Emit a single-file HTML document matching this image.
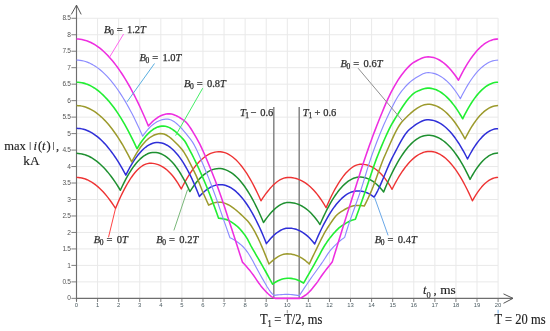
<!DOCTYPE html>
<html><head><meta charset="utf-8"><style>
html,body{margin:0;padding:0;background:#fff;}
svg{display:block;}
.g{stroke:#e9e9e9;stroke-width:1;}
.ax{stroke:#707070;stroke-width:0.9;}
.axm{stroke:#6e6e6e;stroke-width:1.15;}
.arr{fill:none;stroke:#555;stroke-width:1;}
.vl{stroke:#858585;stroke-width:1.5;}
.tl{font-family:"Liberation Sans",sans-serif;font-size:5.9px;fill:#4a5a60;}
.tly{font-family:"Liberation Sans",sans-serif;font-size:6.6px;fill:#555;letter-spacing:-0.35px;}
.bar{font-size:9px;}
.bl{font-family:"Liberation Serif",serif;font-size:10.5px;fill:#2e2e2e;stroke:#2e2e2e;stroke-width:0.25px;}
.it{font-style:italic;}
.bl .sub{font-size:7.5px;}
.at{font-family:"Liberation Serif",serif;font-size:12.5px;fill:#222;stroke:#222;stroke-width:0.15px;}
.at2{font-family:"Liberation Serif",serif;font-size:12.5px;fill:#222;stroke:#222;stroke-width:0.15px;}
.sub2{font-size:8.5px;}
</style></head><body>
<svg width="550" height="331" viewBox="0 0 550 331">
<line x1="97.58" y1="18.27" x2="97.58" y2="298.35" class="g"/>
<line x1="118.66" y1="18.27" x2="118.66" y2="298.35" class="g"/>
<line x1="139.74" y1="18.27" x2="139.74" y2="298.35" class="g"/>
<line x1="160.82" y1="18.27" x2="160.82" y2="298.35" class="g"/>
<line x1="181.90" y1="18.27" x2="181.90" y2="298.35" class="g"/>
<line x1="202.98" y1="18.27" x2="202.98" y2="298.35" class="g"/>
<line x1="224.06" y1="18.27" x2="224.06" y2="298.35" class="g"/>
<line x1="245.14" y1="18.27" x2="245.14" y2="298.35" class="g"/>
<line x1="266.22" y1="18.27" x2="266.22" y2="298.35" class="g"/>
<line x1="287.30" y1="18.27" x2="287.30" y2="298.35" class="g"/>
<line x1="308.38" y1="18.27" x2="308.38" y2="298.35" class="g"/>
<line x1="329.46" y1="18.27" x2="329.46" y2="298.35" class="g"/>
<line x1="350.54" y1="18.27" x2="350.54" y2="298.35" class="g"/>
<line x1="371.62" y1="18.27" x2="371.62" y2="298.35" class="g"/>
<line x1="392.70" y1="18.27" x2="392.70" y2="298.35" class="g"/>
<line x1="413.78" y1="18.27" x2="413.78" y2="298.35" class="g"/>
<line x1="434.86" y1="18.27" x2="434.86" y2="298.35" class="g"/>
<line x1="455.94" y1="18.27" x2="455.94" y2="298.35" class="g"/>
<line x1="477.02" y1="18.27" x2="477.02" y2="298.35" class="g"/>
<line x1="498.10" y1="18.27" x2="498.10" y2="298.35" class="g"/>
<line x1="76.50" y1="281.88" x2="498.10" y2="281.88" class="g"/>
<line x1="76.50" y1="265.40" x2="498.10" y2="265.40" class="g"/>
<line x1="76.50" y1="248.93" x2="498.10" y2="248.93" class="g"/>
<line x1="76.50" y1="232.45" x2="498.10" y2="232.45" class="g"/>
<line x1="76.50" y1="215.98" x2="498.10" y2="215.98" class="g"/>
<line x1="76.50" y1="199.50" x2="498.10" y2="199.50" class="g"/>
<line x1="76.50" y1="183.03" x2="498.10" y2="183.03" class="g"/>
<line x1="76.50" y1="166.55" x2="498.10" y2="166.55" class="g"/>
<line x1="76.50" y1="150.08" x2="498.10" y2="150.08" class="g"/>
<line x1="76.50" y1="133.60" x2="498.10" y2="133.60" class="g"/>
<line x1="76.50" y1="117.12" x2="498.10" y2="117.12" class="g"/>
<line x1="76.50" y1="100.65" x2="498.10" y2="100.65" class="g"/>
<line x1="76.50" y1="84.18" x2="498.10" y2="84.18" class="g"/>
<line x1="76.50" y1="67.70" x2="498.10" y2="67.70" class="g"/>
<line x1="76.50" y1="51.22" x2="498.10" y2="51.22" class="g"/>
<line x1="76.50" y1="34.75" x2="498.10" y2="34.75" class="g"/>
<line x1="76.50" y1="18.27" x2="498.10" y2="18.27" class="g"/>
<line x1="71.4" y1="298.35" x2="76.50" y2="298.35" class="ax"/>
<text x="70.5" y="300.45" class="tly" text-anchor="end">0</text>
<line x1="71.4" y1="281.88" x2="76.50" y2="281.88" class="ax"/>
<text x="70.5" y="283.98" class="tly" text-anchor="end">0.5</text>
<line x1="71.4" y1="265.40" x2="76.50" y2="265.40" class="ax"/>
<text x="70.5" y="267.50" class="tly" text-anchor="end">1</text>
<line x1="71.4" y1="248.93" x2="76.50" y2="248.93" class="ax"/>
<text x="70.5" y="251.03" class="tly" text-anchor="end">1.5</text>
<line x1="71.4" y1="232.45" x2="76.50" y2="232.45" class="ax"/>
<text x="70.5" y="234.55" class="tly" text-anchor="end">2</text>
<line x1="71.4" y1="215.98" x2="76.50" y2="215.98" class="ax"/>
<text x="70.5" y="218.08" class="tly" text-anchor="end">2.5</text>
<line x1="71.4" y1="199.50" x2="76.50" y2="199.50" class="ax"/>
<text x="70.5" y="201.60" class="tly" text-anchor="end">3</text>
<line x1="71.4" y1="183.03" x2="76.50" y2="183.03" class="ax"/>
<text x="70.5" y="185.12" class="tly" text-anchor="end">3.5</text>
<line x1="71.4" y1="166.55" x2="76.50" y2="166.55" class="ax"/>
<text x="70.5" y="168.65" class="tly" text-anchor="end">4</text>
<line x1="71.4" y1="150.08" x2="76.50" y2="150.08" class="ax"/>
<text x="70.5" y="152.18" class="tly" text-anchor="end">4.5</text>
<line x1="71.4" y1="133.60" x2="76.50" y2="133.60" class="ax"/>
<text x="70.5" y="135.70" class="tly" text-anchor="end">5</text>
<line x1="71.4" y1="117.12" x2="76.50" y2="117.12" class="ax"/>
<text x="70.5" y="119.22" class="tly" text-anchor="end">5.5</text>
<line x1="71.4" y1="100.65" x2="76.50" y2="100.65" class="ax"/>
<text x="70.5" y="102.75" class="tly" text-anchor="end">6</text>
<line x1="71.4" y1="84.18" x2="76.50" y2="84.18" class="ax"/>
<text x="70.5" y="86.28" class="tly" text-anchor="end">6.5</text>
<line x1="71.4" y1="67.70" x2="76.50" y2="67.70" class="ax"/>
<text x="70.5" y="69.80" class="tly" text-anchor="end">7</text>
<line x1="71.4" y1="51.22" x2="76.50" y2="51.22" class="ax"/>
<text x="70.5" y="53.32" class="tly" text-anchor="end">7.5</text>
<line x1="71.4" y1="34.75" x2="76.50" y2="34.75" class="ax"/>
<text x="70.5" y="36.85" class="tly" text-anchor="end">8</text>
<line x1="71.4" y1="18.27" x2="76.50" y2="18.27" class="ax"/>
<text x="70.5" y="20.37" class="tly" text-anchor="end">8.5</text>
<line x1="76.50" y1="298.35" x2="76.50" y2="302" class="ax"/>
<text x="76.50" y="307.4" class="tl" text-anchor="middle">0</text>
<line x1="97.58" y1="298.35" x2="97.58" y2="302" class="ax"/>
<text x="97.58" y="307.4" class="tl" text-anchor="middle">1</text>
<line x1="118.66" y1="298.35" x2="118.66" y2="302" class="ax"/>
<text x="118.66" y="307.4" class="tl" text-anchor="middle">2</text>
<line x1="139.74" y1="298.35" x2="139.74" y2="302" class="ax"/>
<text x="139.74" y="307.4" class="tl" text-anchor="middle">3</text>
<line x1="160.82" y1="298.35" x2="160.82" y2="302" class="ax"/>
<text x="160.82" y="307.4" class="tl" text-anchor="middle">4</text>
<line x1="181.90" y1="298.35" x2="181.90" y2="302" class="ax"/>
<text x="181.90" y="307.4" class="tl" text-anchor="middle">5</text>
<line x1="202.98" y1="298.35" x2="202.98" y2="302" class="ax"/>
<text x="202.98" y="307.4" class="tl" text-anchor="middle">6</text>
<line x1="224.06" y1="298.35" x2="224.06" y2="302" class="ax"/>
<text x="224.06" y="307.4" class="tl" text-anchor="middle">7</text>
<line x1="245.14" y1="298.35" x2="245.14" y2="302" class="ax"/>
<text x="245.14" y="307.4" class="tl" text-anchor="middle">8</text>
<line x1="266.22" y1="298.35" x2="266.22" y2="302" class="ax"/>
<text x="266.22" y="307.4" class="tl" text-anchor="middle">9</text>
<line x1="287.30" y1="298.35" x2="287.30" y2="302" class="ax"/>
<text x="287.30" y="307.4" class="tl" text-anchor="middle">10</text>
<line x1="308.38" y1="298.35" x2="308.38" y2="302" class="ax"/>
<text x="308.38" y="307.4" class="tl" text-anchor="middle">11</text>
<line x1="329.46" y1="298.35" x2="329.46" y2="302" class="ax"/>
<text x="329.46" y="307.4" class="tl" text-anchor="middle">12</text>
<line x1="350.54" y1="298.35" x2="350.54" y2="302" class="ax"/>
<text x="350.54" y="307.4" class="tl" text-anchor="middle">13</text>
<line x1="371.62" y1="298.35" x2="371.62" y2="302" class="ax"/>
<text x="371.62" y="307.4" class="tl" text-anchor="middle">14</text>
<line x1="392.70" y1="298.35" x2="392.70" y2="302" class="ax"/>
<text x="392.70" y="307.4" class="tl" text-anchor="middle">15</text>
<line x1="413.78" y1="298.35" x2="413.78" y2="302" class="ax"/>
<text x="413.78" y="307.4" class="tl" text-anchor="middle">16</text>
<line x1="434.86" y1="298.35" x2="434.86" y2="302" class="ax"/>
<text x="434.86" y="307.4" class="tl" text-anchor="middle">17</text>
<line x1="455.94" y1="298.35" x2="455.94" y2="302" class="ax"/>
<text x="455.94" y="307.4" class="tl" text-anchor="middle">18</text>
<line x1="477.02" y1="298.35" x2="477.02" y2="302" class="ax"/>
<text x="477.02" y="307.4" class="tl" text-anchor="middle">19</text>
<line x1="498.10" y1="298.35" x2="498.10" y2="302" class="ax"/>
<text x="498.10" y="307.4" class="tl" text-anchor="middle">20</text>
<line x1="76.5" y1="5.2" x2="76.5" y2="301" class="axm"/>
<line x1="76.5" y1="298.35" x2="513" y2="298.35" class="axm"/>
<polyline points="71.3,14.4 76.5,5.2 81.2,14.4" class="arr"/>
<polyline points="503.5,293.9 513,298.35 503.5,303.3" class="arr"/>
<line x1="273.8" y1="107.0" x2="273.8" y2="298.35" class="vl"/>
<line x1="299.2" y1="107.0" x2="299.2" y2="298.35" class="vl"/>
<path d="M76.50,177.42 L78.27,177.49 L80.05,177.68 L81.82,178.00 L83.59,178.45 L85.36,179.02 L87.14,179.73 L88.91,180.56 L90.68,181.52 L92.45,182.61 L94.23,183.82 L96.00,185.17 L97.77,186.64 L99.54,188.24 L101.32,189.97 L103.09,191.82 L104.86,193.81 L106.63,195.92 L108.41,198.16 L110.18,200.53 L111.95,203.02 L113.73,205.64 L115.50,208.40 L117.28,204.18 L119.05,200.14 L120.83,196.28 L122.61,192.60 L124.39,189.13 L126.16,185.84 L127.94,182.76 L129.72,179.89 L131.50,177.23 L133.27,174.78 L135.05,172.56 L136.83,170.56 L138.61,168.79 L140.38,167.26 L142.16,165.97 L143.94,164.92 L145.72,164.12 L147.49,163.58 L149.27,163.30 L151.05,163.27 L152.83,163.40 L154.60,163.67 L156.38,164.08 L158.16,164.66 L159.94,165.39 L161.71,166.29 L163.49,167.37 L165.27,168.62 L167.05,170.06 L168.82,171.69 L170.60,173.52 L172.38,175.55 L174.16,177.78 L175.93,180.24 L177.71,182.92 L179.49,185.82 L181.27,188.96 L183.04,185.49 L184.81,182.19 L186.58,179.07 L188.35,176.13 L190.12,173.35 L191.89,170.75 L193.66,168.32 L195.43,166.06 L197.20,163.96 L198.97,162.04 L200.75,160.28 L202.52,158.69 L204.29,157.26 L206.06,156.00 L207.83,154.91 L209.60,153.97 L211.37,153.20 L213.14,152.59 L214.91,152.15 L216.68,151.86 L218.45,151.73 L220.22,151.77 L221.99,151.98 L223.76,152.37 L225.54,152.94 L227.31,153.69 L229.08,154.62 L230.85,155.72 L232.62,157.00 L234.39,158.45 L236.16,160.08 L237.93,161.88 L239.70,163.86 L241.47,166.00 L243.24,168.32 L245.01,170.81 L246.78,173.47 L248.55,176.30 L250.33,179.30 L252.10,182.47 L253.87,185.81 L255.64,189.31 L257.41,192.98 L259.18,196.82 L260.95,200.82 L262.71,198.15 L264.47,195.61 L266.23,193.21 L267.99,190.95 L269.75,188.84 L271.51,186.88 L273.27,185.09 L275.03,183.47 L276.79,182.03 L278.55,180.77 L280.32,179.70 L282.08,178.83 L283.84,178.16 L285.60,177.70 L287.36,177.46 L289.12,177.43 L290.88,177.53 L292.64,177.75 L294.40,178.07 L296.16,178.52 L297.92,179.09 L299.68,179.78 L301.44,180.61 L303.20,181.56 L304.96,182.66 L306.72,183.89 L308.48,185.27 L310.24,186.79 L312.00,188.47 L313.76,190.30 L315.52,192.28 L317.28,194.43 L319.05,196.75 L320.81,199.23 L322.57,201.89 L324.33,204.72 L326.09,207.74 L327.87,203.67 L329.65,199.78 L331.44,196.07 L333.22,192.54 L335.00,189.20 L336.79,186.05 L338.57,183.10 L340.35,180.35 L342.14,177.80 L343.92,175.45 L345.70,173.32 L347.49,171.40 L349.27,169.70 L351.05,168.22 L352.84,166.97 L354.62,165.95 L356.40,165.17 L358.19,164.62 L359.97,164.31 L361.75,164.25 L363.54,164.36 L365.32,164.61 L367.10,165.01 L368.89,165.57 L370.67,166.29 L372.45,167.17 L374.24,168.22 L376.02,169.46 L377.80,170.87 L379.58,172.46 L381.37,174.25 L383.15,176.24 L384.93,178.42 L386.72,180.82 L388.50,183.42 L390.28,186.24 L392.07,189.29 L393.85,185.76 L395.64,182.41 L397.42,179.24 L399.21,176.23 L400.99,173.40 L402.78,170.73 L404.56,168.24 L406.35,165.93 L408.13,163.78 L409.92,161.80 L411.70,160.00 L413.48,158.37 L415.27,156.91 L417.05,155.62 L418.84,154.50 L420.62,153.55 L422.41,152.78 L424.19,152.18 L425.98,151.74 L427.76,151.48 L429.55,151.39 L431.33,151.48 L433.12,151.73 L434.90,152.16 L436.69,152.75 L438.47,153.52 L440.26,154.47 L442.04,155.58 L443.83,156.87 L445.61,158.33 L447.40,159.96 L449.18,161.76 L450.97,163.73 L452.75,165.88 L454.53,168.20 L456.32,170.69 L458.10,173.35 L459.89,176.18 L461.67,179.19 L463.46,182.36 L465.24,185.71 L467.03,189.23 L468.81,192.92 L470.60,196.78 L472.38,200.82 L474.22,197.60 L476.06,194.61 L477.89,191.87 L479.73,189.36 L481.57,187.09 L483.40,185.06 L485.24,183.27 L487.08,181.72 L488.92,180.41 L490.75,179.33 L492.59,178.50 L494.43,177.90 L496.26,177.54 L498.10,177.42" fill="none" stroke="#ee3333" stroke-width="1.4" stroke-linejoin="round"/>
<path d="M76.50,153.37 L78.33,153.43 L80.15,153.63 L81.98,153.95 L83.81,154.40 L85.63,154.97 L87.46,155.68 L89.29,156.51 L91.12,157.47 L92.94,158.56 L94.77,159.78 L96.60,161.12 L98.42,162.60 L100.25,164.20 L102.08,165.93 L103.90,167.79 L105.73,169.77 L107.56,171.89 L109.38,174.13 L111.21,176.50 L113.04,179.00 L114.87,181.62 L116.69,184.38 L118.52,187.26 L120.35,190.27 L122.13,186.45 L123.91,182.82 L125.70,179.39 L127.48,176.15 L129.26,173.12 L131.05,170.28 L132.83,167.65 L134.62,165.22 L136.40,163.00 L138.18,160.98 L139.97,159.18 L141.75,157.58 L143.53,156.19 L145.32,155.02 L147.10,154.06 L148.89,153.31 L150.67,152.78 L152.45,152.47 L154.24,152.38 L156.02,152.49 L157.80,152.79 L159.59,153.27 L161.37,153.95 L163.16,154.82 L164.94,155.87 L166.72,157.13 L168.51,158.57 L170.29,160.22 L172.07,162.06 L173.86,164.09 L175.64,166.33 L177.42,168.77 L179.21,171.42 L180.99,174.26 L182.78,177.31 L184.56,180.57 L186.34,184.03 L188.13,187.71 L189.91,191.59 L191.70,188.83 L193.50,186.24 L195.29,183.83 L197.09,181.59 L198.88,179.53 L200.68,177.64 L202.47,175.93 L204.27,174.40 L206.06,173.04 L207.85,171.86 L209.65,170.86 L211.44,170.03 L213.24,169.39 L215.03,168.92 L216.83,168.63 L218.62,168.53 L220.41,168.60 L222.21,168.84 L224.00,169.26 L225.80,169.85 L227.59,170.61 L229.39,171.55 L231.18,172.66 L232.98,173.94 L234.77,175.40 L236.56,177.03 L238.36,178.84 L240.15,180.82 L241.95,182.98 L243.74,185.31 L245.54,187.81 L247.33,190.50 L249.12,193.36 L250.92,196.39 L252.71,199.60 L254.51,202.99 L256.30,206.55 L258.10,210.29 L259.89,214.20 L261.69,218.30 L263.48,222.57 L265.25,220.03 L267.01,217.64 L268.78,215.39 L270.54,213.30 L272.31,211.36 L274.07,209.60 L275.84,208.01 L277.60,206.60 L279.37,205.39 L281.13,204.37 L282.90,203.57 L284.66,202.98 L286.43,202.61 L288.20,202.47 L289.96,202.51 L291.73,202.67 L293.49,202.95 L295.26,203.35 L297.02,203.88 L298.79,204.54 L300.55,205.33 L302.32,206.27 L304.08,207.36 L305.85,208.60 L307.62,209.99 L309.38,211.55 L311.15,213.27 L312.91,215.17 L314.68,217.23 L316.44,219.48 L318.21,221.92 L319.97,224.54 L321.74,220.51 L323.51,216.66 L325.28,212.97 L327.05,209.46 L328.82,206.12 L330.58,202.96 L332.35,199.97 L334.12,197.16 L335.89,194.53 L337.66,192.08 L339.43,189.81 L341.19,187.72 L342.96,185.81 L344.73,184.09 L346.50,182.56 L348.27,181.21 L350.04,180.05 L351.80,179.08 L353.57,178.30 L355.34,177.72 L357.11,177.32 L358.88,177.12 L360.65,177.11 L362.42,177.26 L364.18,177.56 L365.95,178.01 L367.72,178.63 L369.49,179.41 L371.26,180.35 L373.03,181.47 L374.79,182.76 L376.56,184.23 L378.33,185.87 L380.10,187.70 L381.87,189.72 L383.64,191.92 L385.40,187.64 L387.16,183.52 L388.93,179.55 L390.69,175.75 L392.45,172.11 L394.22,168.63 L395.98,165.32 L397.75,162.17 L399.51,159.19 L401.27,156.38 L403.04,153.74 L404.80,151.26 L406.57,148.96 L408.33,146.84 L410.09,144.88 L411.86,143.11 L413.62,141.51 L415.38,140.09 L417.15,138.85 L418.91,137.79 L420.68,136.91 L422.44,136.22 L424.20,135.71 L425.97,135.39 L427.73,135.25 L429.50,135.29 L431.26,135.48 L433.02,135.81 L434.79,136.30 L436.55,136.93 L438.31,137.71 L440.08,138.65 L441.84,139.74 L443.61,140.99 L445.37,142.40 L447.13,143.96 L448.90,145.69 L450.66,147.57 L452.43,149.62 L454.19,151.84 L455.95,154.22 L457.72,156.76 L459.48,159.48 L461.24,162.36 L463.01,165.42 L464.77,168.65 L466.54,172.06 L468.30,175.64 L470.06,179.40 L471.93,176.00 L473.80,172.84 L475.67,169.91 L477.54,167.22 L479.41,164.76 L481.28,162.53 L483.15,160.54 L485.02,158.78 L486.89,157.26 L488.75,155.97 L490.62,154.91 L492.49,154.09 L494.36,153.51 L496.23,153.16 L498.10,153.04" fill="none" stroke="#1e9030" stroke-width="1.5" stroke-linejoin="round"/>
<path d="M76.50,128.33 L78.26,128.39 L80.02,128.57 L81.79,128.87 L83.55,129.28 L85.31,129.82 L87.07,130.48 L88.83,131.25 L90.59,132.15 L92.36,133.16 L94.12,134.30 L95.88,135.55 L97.64,136.92 L99.40,138.41 L101.16,140.03 L102.93,141.76 L104.69,143.61 L106.45,145.58 L108.21,147.66 L109.97,149.87 L111.73,152.20 L113.50,154.65 L115.26,157.21 L117.02,159.90 L118.78,162.70 L120.54,165.63 L122.30,168.67 L124.07,171.83 L125.83,175.12 L127.62,171.58 L129.42,168.24 L131.21,165.10 L133.00,162.16 L134.80,159.42 L136.59,156.88 L138.39,154.55 L140.18,152.42 L141.98,150.50 L143.77,148.78 L145.57,147.27 L147.36,145.96 L149.15,144.86 L150.95,143.97 L152.74,143.29 L154.54,142.82 L156.33,142.55 L158.13,142.50 L159.92,142.65 L161.71,143.00 L163.51,143.54 L165.30,144.29 L167.10,145.23 L168.89,146.36 L170.69,147.70 L172.48,149.24 L174.28,150.98 L176.07,152.92 L177.86,155.05 L179.66,157.39 L181.45,159.94 L183.25,162.68 L185.04,165.62 L186.84,168.77 L188.63,172.13 L190.42,175.68 L192.22,179.44 L194.01,183.41 L195.81,187.58 L197.60,191.95 L199.40,196.53 L201.16,194.60 L202.92,192.85 L204.69,191.26 L206.45,189.85 L208.22,188.61 L209.98,187.54 L211.74,186.64 L213.51,185.91 L215.27,185.35 L217.04,184.95 L218.80,184.73 L220.57,184.67 L222.33,184.79 L224.09,185.08 L225.86,185.54 L227.62,186.18 L229.39,186.98 L231.15,187.96 L232.91,189.12 L234.68,190.44 L236.44,191.94 L238.21,193.61 L239.97,195.45 L241.73,197.46 L243.50,199.65 L245.26,202.00 L247.03,204.53 L248.79,207.23 L250.55,210.10 L252.32,213.15 L254.08,216.36 L255.85,219.75 L257.61,223.30 L259.37,227.03 L261.14,230.93 L262.90,235.00 L264.67,239.24 L266.43,243.65 L268.22,241.40 L270.01,239.30 L271.79,237.35 L273.58,235.56 L275.37,233.95 L277.16,232.52 L278.95,231.28 L280.73,230.23 L282.52,229.39 L284.31,228.76 L286.10,228.35 L287.89,228.17 L289.67,228.20 L291.46,228.35 L293.25,228.63 L295.04,229.04 L296.83,229.59 L298.61,230.29 L300.40,231.13 L302.19,232.14 L303.98,233.30 L305.76,234.63 L307.55,236.13 L309.34,237.81 L311.13,239.68 L312.92,241.73 L314.70,243.98 L316.51,239.74 L318.31,235.66 L320.11,231.75 L321.91,228.00 L323.71,224.43 L325.51,221.03 L327.31,217.81 L329.12,214.75 L330.92,211.88 L332.72,209.18 L334.52,206.67 L336.32,204.33 L338.12,202.18 L339.92,200.21 L341.72,198.42 L343.53,196.82 L345.33,195.41 L347.13,194.19 L348.93,193.16 L350.73,192.33 L352.53,191.69 L354.33,191.24 L356.14,190.99 L357.94,190.94 L359.74,191.03 L361.54,191.25 L363.34,191.60 L365.14,192.11 L366.94,192.77 L368.75,193.60 L370.55,194.61 L372.35,195.80 L374.15,197.19 L375.91,194.13 L377.67,190.79 L379.44,187.10 L381.20,183.14 L382.96,179.00 L384.72,174.77 L386.48,170.53 L388.25,166.38 L390.01,162.39 L391.77,158.65 L393.53,155.24 L395.29,151.88 L397.06,148.50 L398.82,145.16 L400.58,141.92 L402.34,138.84 L404.10,135.99 L405.87,133.44 L407.63,131.25 L409.39,129.48 L411.15,128.08 L412.91,126.74 L414.67,125.45 L416.44,124.23 L418.20,123.11 L419.96,122.11 L421.72,121.26 L423.48,120.57 L425.25,120.08 L427.01,119.81 L428.77,119.77 L430.53,119.90 L432.29,120.19 L434.06,120.63 L435.82,121.22 L437.58,121.96 L439.34,122.86 L441.10,123.92 L442.87,125.13 L444.63,126.50 L446.39,128.03 L448.15,129.72 L449.91,131.56 L451.68,133.57 L453.44,135.74 L455.20,138.07 L456.96,140.56 L458.72,143.22 L460.49,146.04 L462.25,149.02 L464.01,152.17 L465.77,155.49 L467.53,158.97 L469.33,155.51 L471.13,152.26 L472.93,149.22 L474.73,146.38 L476.52,143.76 L478.32,141.35 L480.12,139.15 L481.92,137.15 L483.72,135.37 L485.51,133.80 L487.31,132.43 L489.11,131.28 L490.91,130.34 L492.71,129.60 L494.50,129.08 L496.30,128.76 L498.10,128.66" fill="none" stroke="#2f2fd8" stroke-width="1.5" stroke-linejoin="round"/>
<path d="M76.50,105.59 L78.28,105.65 L80.06,105.83 L81.84,106.12 L83.63,106.53 L85.41,107.06 L87.19,107.70 L88.97,108.47 L90.75,109.34 L92.53,110.34 L94.32,111.46 L96.10,112.69 L97.88,114.04 L99.66,115.50 L101.44,117.08 L103.22,118.78 L105.01,120.60 L106.79,122.54 L108.57,124.59 L110.35,126.76 L112.13,129.04 L113.91,131.45 L115.70,133.97 L117.48,136.61 L119.26,139.36 L121.04,142.24 L122.82,145.23 L124.60,148.33 L126.38,151.56 L128.17,154.90 L129.95,158.36 L131.73,161.94 L133.52,158.50 L135.31,155.29 L137.10,152.32 L138.89,149.57 L140.68,147.05 L142.47,144.75 L144.26,142.67 L146.04,140.82 L147.83,139.18 L149.62,137.75 L151.41,136.54 L153.20,135.54 L154.99,134.75 L156.78,134.17 L158.57,133.79 L160.36,133.61 L162.15,133.67 L163.94,134.07 L165.73,134.77 L167.52,135.76 L169.31,136.98 L171.10,138.40 L172.88,139.98 L174.67,141.68 L176.46,143.47 L178.25,145.30 L180.04,147.15 L181.83,149.23 L183.62,151.72 L185.41,154.56 L187.20,157.70 L188.99,161.06 L190.78,164.59 L192.57,168.22 L194.36,171.89 L196.15,175.66 L197.94,179.85 L199.72,184.30 L201.51,188.81 L203.30,193.19 L205.09,197.28 L206.88,201.24 L208.67,205.10 L210.44,204.21 L212.22,203.47 L213.99,202.88 L215.76,202.45 L217.54,202.20 L219.31,202.14 L221.08,202.28 L222.86,202.62 L224.63,203.15 L226.40,203.85 L228.18,204.71 L229.95,205.72 L231.72,206.86 L233.50,208.12 L235.27,209.49 L237.04,210.95 L238.82,212.50 L240.59,214.11 L242.36,215.78 L244.14,217.49 L245.91,219.23 L247.68,221.05 L249.46,223.22 L251.23,225.73 L253.00,228.56 L254.77,231.68 L256.55,235.07 L258.32,238.70 L260.09,242.55 L261.87,246.58 L263.64,250.78 L265.41,255.11 L267.19,259.56 L268.96,264.08 L270.79,262.28 L272.62,260.63 L274.45,259.13 L276.28,257.80 L278.11,256.64 L279.94,255.67 L281.77,254.90 L283.60,254.34 L285.43,253.99 L287.26,253.87 L289.09,253.92 L290.92,254.10 L292.75,254.41 L294.58,254.85 L296.41,255.43 L298.24,256.16 L300.07,257.05 L301.90,258.10 L303.73,259.33 L305.56,260.72 L307.39,262.31 L309.22,264.08 L311.00,260.32 L312.77,256.60 L314.55,252.96 L316.32,249.36 L318.10,245.69 L319.87,242.03 L321.65,238.44 L323.42,234.98 L325.20,231.73 L326.97,228.76 L328.75,226.03 L330.52,223.33 L332.30,220.72 L334.07,218.28 L335.85,216.09 L337.62,214.24 L339.39,212.80 L341.17,211.66 L342.94,210.55 L344.72,209.49 L346.49,208.51 L348.27,207.63 L350.04,206.87 L351.82,206.25 L353.59,205.79 L355.37,205.51 L357.14,205.43 L358.92,205.46 L360.69,205.55 L362.47,205.75 L364.24,206.09 L366.01,202.61 L367.78,198.98 L369.55,195.17 L371.31,191.16 L373.08,186.81 L374.85,182.13 L376.62,177.26 L378.38,172.31 L380.15,167.43 L381.92,162.72 L383.69,158.32 L385.46,154.29 L387.22,150.28 L388.99,146.26 L390.76,142.27 L392.53,138.39 L394.29,134.66 L396.06,131.15 L397.83,127.91 L399.60,125.00 L401.36,122.48 L403.13,120.41 L404.90,118.67 L406.67,116.96 L408.44,115.29 L410.20,113.68 L411.97,112.14 L413.74,110.69 L415.51,109.35 L417.27,108.13 L419.04,107.05 L420.81,106.12 L422.58,105.36 L424.35,104.79 L426.11,104.42 L427.88,104.28 L429.65,104.33 L431.42,104.55 L433.18,104.92 L434.95,105.45 L436.72,106.14 L438.49,106.99 L440.26,108.00 L442.02,109.17 L443.79,110.49 L445.56,111.97 L447.33,113.62 L449.09,115.42 L450.86,117.38 L452.63,119.51 L454.40,121.79 L456.17,124.24 L457.93,126.84 L459.70,129.61 L461.47,132.53 L463.24,135.62 L465.00,138.87 L466.84,135.28 L468.68,131.89 L470.52,128.70 L472.36,125.72 L474.20,122.95 L476.04,120.38 L477.87,118.02 L479.71,115.86 L481.55,113.91 L483.39,112.17 L485.23,110.63 L487.07,109.29 L488.91,108.16 L490.75,107.24 L492.58,106.52 L494.42,106.00 L496.26,105.70 L498.10,105.59" fill="none" stroke="#9c9a2c" stroke-width="1.5" stroke-linejoin="round"/>
<path d="M76.50,82.20 L78.28,82.26 L80.06,82.43 L81.84,82.72 L83.62,83.12 L85.40,83.64 L87.18,84.27 L88.96,85.02 L90.74,85.88 L92.51,86.86 L94.29,87.96 L96.07,89.16 L97.85,90.49 L99.63,91.93 L101.41,93.48 L103.19,95.15 L104.97,96.94 L106.75,98.84 L108.53,100.85 L110.31,102.98 L112.09,105.23 L113.87,107.59 L115.65,110.07 L117.43,112.66 L119.21,115.36 L120.98,118.18 L122.76,121.12 L124.54,124.17 L126.32,127.34 L128.10,130.62 L129.88,134.02 L131.66,137.53 L133.44,141.16 L135.22,144.90 L137.00,148.76 L138.77,145.79 L140.55,143.04 L142.32,140.49 L144.09,138.15 L145.87,136.01 L147.64,134.09 L149.41,132.37 L151.19,130.85 L152.96,129.55 L154.73,128.44 L156.51,127.55 L158.28,126.86 L160.05,126.38 L161.83,126.10 L163.60,126.02 L165.38,126.21 L167.15,126.67 L168.92,127.37 L170.70,128.30 L172.47,129.43 L174.24,130.74 L176.02,132.20 L177.79,133.80 L179.56,135.50 L181.34,137.29 L183.11,139.13 L184.88,141.25 L186.66,144.26 L188.43,147.71 L190.20,151.08 L191.98,154.48 L193.75,157.99 L195.52,161.61 L197.30,165.32 L199.07,169.14 L200.84,173.05 L202.62,177.10 L204.39,181.25 L206.16,185.51 L207.94,189.87 L209.71,194.32 L211.49,198.87 L213.26,203.55 L215.03,208.35 L216.81,213.26 L218.58,218.28 L220.38,218.38 L222.18,218.63 L223.98,218.97 L225.77,219.38 L227.57,219.99 L229.37,220.85 L231.17,221.90 L232.97,223.09 L234.77,224.38 L236.57,225.76 L238.37,227.39 L240.17,229.27 L241.96,231.36 L243.76,233.64 L245.56,236.07 L247.36,238.94 L249.16,242.28 L250.96,245.77 L252.76,249.06 L254.56,252.21 L256.35,255.32 L258.15,258.41 L259.95,261.50 L261.75,264.62 L263.55,267.79 L265.35,271.00 L267.15,274.25 L268.95,277.54 L270.75,280.85 L272.54,284.18 L274.37,282.91 L276.19,281.78 L278.01,280.80 L279.84,279.97 L281.66,279.29 L283.48,278.78 L285.30,278.44 L287.13,278.27 L288.95,278.27 L290.77,278.40 L292.59,278.66 L294.42,279.05 L296.24,279.58 L298.06,280.25 L299.89,281.07 L301.71,282.05 L303.53,283.19 L305.32,280.08 L307.11,276.96 L308.90,273.83 L310.68,270.69 L312.47,267.54 L314.26,264.38 L316.05,261.21 L317.84,257.92 L319.63,254.56 L321.41,251.22 L323.20,248.01 L324.99,245.02 L326.78,242.32 L328.57,239.78 L330.35,237.39 L332.14,235.15 L333.93,233.09 L335.72,231.18 L337.51,229.36 L339.29,227.70 L341.08,226.27 L342.87,225.09 L344.66,223.97 L346.45,222.91 L348.24,221.93 L350.02,221.06 L351.81,220.31 L353.60,219.71 L355.39,219.27 L357.15,214.35 L358.91,209.42 L360.67,204.46 L362.42,199.49 L364.18,194.49 L365.94,189.45 L367.70,184.25 L369.46,178.95 L371.22,173.65 L372.98,168.43 L374.74,163.39 L376.50,158.63 L378.26,154.19 L380.01,149.87 L381.77,145.62 L383.53,141.48 L385.29,137.47 L387.05,133.61 L388.81,129.94 L390.57,126.46 L392.33,123.22 L394.09,120.24 L395.84,117.39 L397.60,114.55 L399.36,111.73 L401.12,108.96 L402.88,106.29 L404.64,103.72 L406.40,101.31 L408.16,99.06 L409.92,97.01 L411.68,95.20 L413.43,93.64 L415.19,92.37 L416.95,91.42 L418.71,90.64 L420.47,89.91 L422.23,89.25 L423.99,88.72 L425.75,88.33 L427.51,88.14 L429.27,88.16 L431.02,88.34 L432.78,88.68 L434.54,89.18 L436.30,89.84 L438.06,90.65 L439.82,91.62 L441.58,92.76 L443.34,94.05 L445.10,95.50 L446.85,97.10 L448.61,98.87 L450.37,100.80 L452.13,102.89 L453.89,105.13 L455.65,107.54 L457.41,110.11 L459.17,112.84 L460.93,115.72 L462.69,118.77 L464.46,115.21 L466.23,111.82 L468.00,108.62 L469.77,105.61 L471.54,102.77 L473.31,100.12 L475.08,97.65 L476.85,95.36 L478.62,93.26 L480.39,91.34 L482.16,89.60 L483.93,88.05 L485.70,86.68 L487.48,85.49 L489.25,84.48 L491.02,83.66 L492.79,83.02 L494.56,82.56 L496.33,82.29 L498.10,82.20" fill="none" stroke="#22ee33" stroke-width="1.6" stroke-linejoin="round"/>
<path d="M76.50,60.12 L78.29,60.18 L80.08,60.34 L81.87,60.62 L83.66,61.01 L85.44,61.51 L87.23,62.12 L89.02,62.85 L90.81,63.68 L92.60,64.62 L94.39,65.68 L96.18,66.85 L97.97,68.13 L99.76,69.52 L101.55,71.02 L103.33,72.63 L105.12,74.35 L106.91,76.19 L108.70,78.14 L110.49,80.19 L112.28,82.36 L114.07,84.64 L115.86,87.03 L117.65,89.53 L119.43,92.15 L121.22,94.87 L123.01,97.71 L124.80,100.65 L126.59,103.71 L128.38,106.88 L130.17,110.16 L131.96,113.55 L133.75,117.05 L135.54,120.67 L137.32,124.39 L139.11,128.23 L140.90,132.18 L142.69,136.24 L144.47,133.69 L146.25,131.36 L148.03,129.25 L149.82,127.35 L151.60,125.67 L153.38,124.19 L155.16,122.90 L156.94,121.82 L158.72,120.92 L160.50,120.21 L162.28,119.67 L164.06,119.32 L165.84,119.13 L167.63,119.13 L169.41,119.43 L171.19,120.04 L172.97,120.93 L174.75,122.09 L176.53,123.47 L178.31,125.06 L180.09,126.83 L181.87,128.74 L183.66,130.78 L185.44,132.92 L187.22,135.12 L189.00,137.37 L190.78,139.63 L192.56,142.12 L194.34,145.15 L196.12,148.63 L197.90,152.44 L199.68,156.51 L201.47,160.72 L203.25,164.99 L205.03,169.21 L206.81,173.44 L208.59,177.87 L210.37,182.46 L212.15,187.18 L213.93,191.99 L215.71,196.87 L217.50,201.93 L219.28,207.12 L221.06,212.35 L222.84,217.53 L224.62,222.61 L226.40,227.67 L228.18,232.71 L229.96,237.72 L231.72,238.54 L233.49,239.50 L235.25,240.57 L237.01,241.74 L238.77,243.01 L240.54,244.43 L242.30,246.01 L244.06,247.78 L245.82,249.84 L247.59,252.30 L249.35,255.03 L251.11,257.91 L252.87,261.03 L254.63,264.43 L256.40,267.80 L258.16,271.04 L259.92,274.25 L261.68,277.35 L263.45,280.36 L265.21,283.43 L266.97,286.45 L268.73,289.28 L270.50,291.80 L272.26,293.88 L274.02,295.38 L275.83,295.10 L277.63,294.88 L279.44,294.70 L281.25,294.57 L283.05,294.48 L284.86,294.42 L286.67,294.40 L288.47,294.41 L290.28,294.49 L292.09,294.63 L293.90,294.83 L295.70,295.08 L297.51,295.38 L299.32,295.71 L301.13,292.92 L302.94,290.16 L304.75,287.42 L306.57,284.71 L308.38,282.03 L310.19,279.38 L312.01,276.79 L313.82,274.26 L315.63,271.75 L317.44,269.25 L319.26,266.74 L321.07,264.18 L322.88,261.54 L324.70,258.71 L326.51,255.82 L328.32,253.09 L330.13,250.73 L331.95,248.61 L333.76,246.65 L335.57,244.84 L337.39,243.15 L339.20,241.56 L341.01,240.05 L342.82,238.66 L344.64,237.39 L346.42,231.54 L348.20,225.93 L349.98,220.65 L351.76,215.60 L353.54,210.68 L355.32,205.82 L357.10,200.92 L358.88,195.89 L360.66,190.64 L362.44,185.09 L364.22,179.32 L366.00,173.47 L367.78,167.67 L369.56,162.06 L371.34,156.79 L373.12,151.82 L374.91,146.98 L376.69,142.26 L378.47,137.68 L380.25,133.24 L382.03,128.95 L383.81,124.83 L385.59,120.88 L387.37,117.06 L389.15,113.26 L390.93,109.53 L392.71,105.92 L394.49,102.47 L396.27,99.23 L398.05,96.24 L399.83,93.56 L401.61,91.20 L403.39,89.01 L405.17,86.94 L406.95,85.01 L408.73,83.23 L410.51,81.63 L412.29,80.21 L414.08,78.98 L415.86,77.86 L417.64,76.74 L419.42,75.66 L421.20,74.67 L422.98,73.83 L424.76,73.18 L426.54,72.77 L428.32,72.64 L430.10,72.73 L431.88,72.97 L433.66,73.36 L435.44,73.89 L437.22,74.59 L439.00,75.44 L440.78,76.44 L442.56,77.61 L444.34,78.94 L446.12,80.44 L447.90,82.11 L449.68,83.95 L451.46,85.95 L453.25,88.14 L455.03,90.50 L456.81,93.04 L458.59,95.77 L460.37,98.67 L462.16,95.09 L463.96,91.68 L465.76,88.45 L467.55,85.39 L469.35,82.50 L471.15,79.79 L472.94,77.26 L474.74,74.90 L476.54,72.71 L478.33,70.70 L480.13,68.86 L481.93,67.20 L483.73,65.72 L485.52,64.41 L487.32,63.27 L489.12,62.31 L490.91,61.52 L492.71,60.91 L494.51,60.47 L496.30,60.21 L498.10,60.12" fill="none" stroke="#8c8cff" stroke-width="1.15" stroke-linejoin="round"/>
<path d="M76.50,39.03 L78.30,39.09 L80.09,39.25 L81.89,39.52 L83.69,39.90 L85.49,40.39 L87.28,40.99 L89.08,41.70 L90.88,42.51 L92.67,43.44 L94.47,44.47 L96.27,45.61 L98.06,46.86 L99.86,48.22 L101.66,49.69 L103.46,51.27 L105.25,52.95 L107.05,54.75 L108.85,56.65 L110.64,58.66 L112.44,60.78 L114.24,63.01 L116.04,65.35 L117.83,67.79 L119.63,70.35 L121.43,73.01 L123.22,75.79 L125.02,78.67 L126.82,81.66 L128.62,84.76 L130.41,87.96 L132.21,91.28 L134.01,94.71 L135.80,98.24 L137.60,101.88 L139.40,105.63 L141.19,109.49 L142.99,113.46 L144.79,117.54 L146.59,121.73 L148.38,126.02 L150.16,124.00 L151.93,122.17 L153.70,120.52 L155.48,119.06 L157.25,117.77 L159.03,116.67 L160.80,115.75 L162.57,115.01 L164.35,114.45 L166.12,114.07 L167.90,113.87 L169.67,113.85 L171.44,114.07 L173.22,114.51 L174.99,115.16 L176.77,115.98 L178.54,116.92 L180.31,117.98 L182.09,119.10 L183.86,120.28 L185.63,121.79 L187.41,123.76 L189.18,126.10 L190.96,128.75 L192.73,131.62 L194.50,134.64 L196.28,137.73 L198.05,140.84 L199.83,144.19 L201.60,147.83 L203.37,151.71 L205.15,155.78 L206.92,159.98 L208.70,164.27 L210.47,168.58 L212.24,172.92 L214.02,177.42 L215.79,182.05 L217.56,186.82 L219.34,191.70 L221.11,196.70 L222.89,201.88 L224.66,207.22 L226.43,212.67 L228.21,218.16 L229.98,223.64 L231.76,229.08 L233.53,234.53 L235.30,240.01 L237.08,245.50 L238.85,251.01 L240.63,256.55 L242.40,262.11 L244.21,264.02 L246.03,266.04 L247.85,268.15 L249.66,270.35 L251.48,272.63 L253.29,275.00 L255.11,277.61 L256.92,280.34 L258.74,282.99 L260.55,285.41 L262.37,287.67 L264.18,289.82 L266.00,291.78 L267.81,293.55 L269.63,295.22 L271.44,296.61 L273.26,297.63 L275.07,298.35 L299.95,298.35 L301.74,297.52 L303.53,296.48 L305.32,295.26 L307.12,293.90 L308.91,292.29 L310.70,290.39 L312.49,288.30 L314.28,286.09 L316.07,283.84 L317.87,281.35 L319.66,278.69 L321.45,276.02 L323.24,273.50 L325.03,271.10 L326.82,268.77 L328.62,266.48 L330.41,264.26 L332.20,262.11 L333.98,256.27 L335.76,250.46 L337.54,244.67 L339.31,238.91 L341.09,233.18 L342.87,227.47 L344.65,221.78 L346.43,216.13 L348.21,210.50 L349.98,204.90 L351.76,199.31 L353.54,193.74 L355.32,188.16 L357.10,182.54 L358.88,176.91 L360.66,171.32 L362.43,165.81 L364.21,160.43 L365.99,155.22 L367.77,150.12 L369.55,145.11 L371.33,140.18 L373.10,135.34 L374.88,130.61 L376.66,125.99 L378.44,121.48 L380.22,117.07 L382.00,112.68 L383.78,108.37 L385.55,104.16 L387.33,100.13 L389.11,96.30 L390.89,92.72 L392.67,89.38 L394.45,86.15 L396.22,83.07 L398.00,80.16 L399.78,77.45 L401.56,74.97 L403.34,72.73 L405.12,70.58 L406.89,68.52 L408.67,66.60 L410.45,64.88 L412.23,63.40 L414.01,62.21 L415.79,61.22 L417.57,60.25 L419.34,59.33 L421.12,58.51 L422.90,57.81 L424.68,57.28 L426.46,56.94 L428.24,56.83 L430.01,56.92 L431.79,57.16 L433.57,57.57 L435.35,58.13 L437.13,58.86 L438.91,59.74 L440.69,60.78 L442.46,61.99 L444.24,63.36 L446.02,64.89 L447.80,66.59 L449.58,68.44 L451.36,70.47 L453.13,72.66 L454.91,75.01 L456.69,77.53 L458.47,80.22 L460.27,76.56 L462.07,73.07 L463.87,69.75 L465.68,66.61 L467.48,63.63 L469.28,60.82 L471.08,58.18 L472.88,55.71 L474.68,53.42 L476.48,51.29 L478.28,49.33 L480.09,47.54 L481.89,45.93 L483.69,44.48 L485.49,43.20 L487.29,42.10 L489.09,41.16 L490.89,40.40 L492.70,39.80 L494.50,39.37 L496.30,39.12 L498.10,39.03" fill="none" stroke="#ee2ee0" stroke-width="1.55" stroke-linejoin="round"/>
<line x1="123.6" y1="34" x2="109.6" y2="57.1" stroke="#ff66ee" stroke-width="1"/>
<line x1="154.5" y1="63.5" x2="127.1" y2="101.8" stroke="#5aaee0" stroke-width="1"/>
<line x1="202.7" y1="88.2" x2="175.6" y2="135.6" stroke="#44ee66" stroke-width="1"/>
<line x1="358.1" y1="68.2" x2="402.7" y2="121" stroke="#909090" stroke-width="1"/>
<line x1="374.5" y1="197.3" x2="388.1" y2="235.4" stroke="#6aa8e8" stroke-width="1"/>
<line x1="173.9" y1="230.4" x2="187.6" y2="189.5" stroke="#7ab87a" stroke-width="1"/>
<line x1="108.5" y1="237.3" x2="115.5" y2="208.5" stroke="#ff4444" stroke-width="1"/>
<text y="33.0" class="bl"><tspan x="103.9" class="it">B</tspan><tspan x="109.9" dy="2" class="sub">0</tspan><tspan x="116.7" dy="-2">=</tspan><tspan x="126.9">1.2</tspan><tspan class="it">T</tspan></text>
<text y="61.4" class="bl"><tspan x="139.4" class="it">B</tspan><tspan x="145.4" dy="2" class="sub">0</tspan><tspan x="152.2" dy="-2">=</tspan><tspan x="162.4">1.0</tspan><tspan class="it">T</tspan></text>
<text y="86.8" class="bl"><tspan x="183.9" class="it">B</tspan><tspan x="189.9" dy="2" class="sub">0</tspan><tspan x="196.7" dy="-2">=</tspan><tspan x="206.9">0.8</tspan><tspan class="it">T</tspan></text>
<text y="66.9" class="bl"><tspan x="340.5" class="it">B</tspan><tspan x="346.5" dy="2" class="sub">0</tspan><tspan x="353.3" dy="-2">=</tspan><tspan x="363.5">0.6</tspan><tspan class="it">T</tspan></text>
<text y="242.9" class="bl"><tspan x="374.8" class="it">B</tspan><tspan x="380.8" dy="2" class="sub">0</tspan><tspan x="387.6" dy="-2">=</tspan><tspan x="397.8">0.4</tspan><tspan class="it">T</tspan></text>
<text y="243.0" class="bl"><tspan x="156.3" class="it">B</tspan><tspan x="162.3" dy="2" class="sub">0</tspan><tspan x="169.1" dy="-2">=</tspan><tspan x="179.3">0.2</tspan><tspan class="it">T</tspan></text>
<text y="242.8" class="bl"><tspan x="93.8" class="it">B</tspan><tspan x="99.8" dy="2" class="sub">0</tspan><tspan x="106.6" dy="-2">=</tspan><tspan x="116.8">0</tspan><tspan class="it">T</tspan></text>
<text y="115.6" class="bl"><tspan x="239.9" class="it">T</tspan><tspan x="245.3" dy="2.2" class="sub">1</tspan><tspan x="250.8" dy="-2.2">−</tspan><tspan x="260.2">0.6</tspan></text>
<text y="115.6" class="bl"><tspan x="302.8" class="it">T</tspan><tspan x="308.4" dy="2.2" class="sub">1</tspan><tspan x="314.4" dy="-2.2">+</tspan><tspan x="323.2">0.6</tspan></text>
<text y="149.9" class="at"><tspan x="4.2">max</tspan><tspan x="29.2" class="bar" dy="-1.6">|</tspan><tspan x="33.6" class="it" dy="1.6">i</tspan><tspan x="37.9">(</tspan><tspan x="42.1" class="it">t</tspan><tspan x="46.4">)</tspan><tspan x="52.5" class="bar" dy="-1.6">|</tspan><tspan x="56.0" dy="1.6">,</tspan></text>
<text x="23.3" y="165.2" class="at" style="font-size:13.3px">kA</text>
<text y="293.7" class="at"><tspan x="423.0" class="it">t</tspan><tspan x="426.6" dy="4.3" class="sub2">0</tspan><tspan x="433.6" dy="-4.3">,</tspan><tspan x="440.2" style="font-size:13.3px">ms</tspan></text>
<text y="324.1" class="at2" transform="translate(0 324.1) scale(1 1.14) translate(0 -324.1)"><tspan x="260.1">T</tspan><tspan x="267.4" dy="2.9" class="sub2">1</tspan><tspan x="274.2" dy="-2.9">= T/2, ms</tspan></text>
<text x="494.6" y="323.8" class="at2" transform="translate(0 323.8) scale(1 1.12) translate(0 -323.8)">T = 20 ms</text>
<line x1="287.30" y1="310" x2="287.30" y2="313.3" stroke="#999" stroke-width="1"/>
<line x1="498.10" y1="309.8" x2="498.10" y2="313.6" stroke="#6aa8e8" stroke-width="1"/>
</svg>
</body></html>
